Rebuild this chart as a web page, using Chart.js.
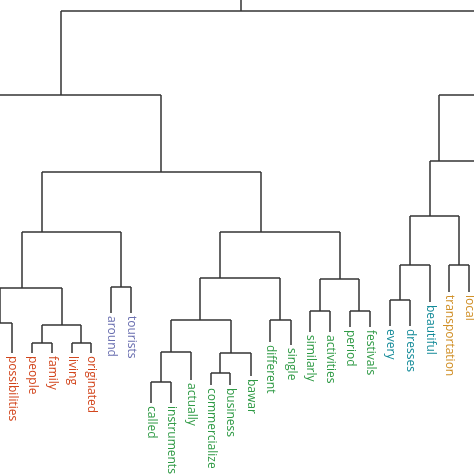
<!DOCTYPE html>
<html>
<head>
<meta charset="utf-8">
<script src="https://cdn.jsdelivr.net/npm/chart.js@4.4.1/dist/chart.umd.min.js"></script>
<style>
  html, body { margin: 0; padding: 0; background: #fff; }
  #wrap { width: 474px; height: 474px; }
</style>
</head>
<body>
<div id="wrap"><canvas id="chart" width="474" height="474"></canvas></div>
<script>
// Leaves: label, position along the axis, bottom of the leaf line, colour group
const leafNames = ["offL0", "possibilities", "people", "family", "living", "originated",
    "around", "tourists", "called", "instruments", "actually", "commercialize", "business", "bawar",
    "different", "single", "similarly", "activities", "period", "festivals",
    "every", "dresses", "beautiful", "transportation", "local", "offL1", "offR0", "offR1"];
const leafX = [-12, 12, 32, 52, 72, 91, 111, 131, 151, 171, 191, 211, 230, 251,
    270, 291, 310, 330, 350, 370, 390, 410, 430, 449, 469, -20, 500, 520];
const leafY = [360, 353, 353, 353, 353, 353, 313, 313, 403, 403, 380, 385, 385, 376,
    342, 345, 332, 332, 327, 327, 326, 326, 302, 292, 292, 480, 480, 480];
const leafGroup = ["", "red", "red", "red", "red", "red", "blue", "blue",
    "green", "green", "green", "green", "green", "green", "green", "green", "green", "green", "green", "green",
    "teal", "teal", "teal", "orange", "orange", "", "", ""];
const groupColors = { red: "#d2451c", blue: "#6a6fb0", green: "#2f9a45", teal: "#138a98", orange: "#d08f26" };

// Merges: name, stub position, merge height, children
const nodeNames = ["nA", "nPF", "nLO", "nPLFO", "nB", "nAT", "nC",
    "nCI", "nCIA", "nCB", "nCBB", "nD", "nDS", "nE", "nSA", "nPF2", "nF", "nG", "nH", "nLeft",
    "nED", "nEDB", "nTL", "nI", "nJ", "nK", "root"];
const nodeX = [0, 42, 81, 62, 22, 121, 42,
    161, 171, 220, 231, 200, 280, 220, 320, 359, 340, 261, 161, 61,
    400, 410, 459, 430, 439, 480, 241];
const nodeY = [323, 343, 343, 325, 288, 287, 232,
    382, 352, 373, 353, 320, 320, 278, 311, 311, 279, 232, 172, 95,
    300, 265, 265, 216, 161, 95, 11];
const nodeKids = [
    ["offL0", "possibilities"], ["people", "family"], ["living", "originated"], ["nPF", "nLO"],
    ["nA", "nPLFO"], ["around", "tourists"], ["nB", "nAT"],
    ["called", "instruments"], ["nCI", "actually"], ["commercialize", "business"], ["nCB", "bawar"],
    ["nCIA", "nCBB"], ["different", "single"], ["nD", "nDS"], ["similarly", "activities"],
    ["period", "festivals"], ["nSA", "nPF2"], ["nE", "nF"], ["nC", "nG"], ["offL1", "nH"],
    ["every", "dresses"], ["nED", "beautiful"], ["transportation", "local"], ["nEDB", "nTL"],
    ["nI", "offR0"], ["nJ", "offR1"], ["nLeft", "nK"]];

function posOf(name) {
    let i = leafNames.indexOf(name);
    if (i >= 0) return { x: leafX[i], y: leafY[i] };
    i = nodeNames.indexOf(name);
    return { x: nodeX[i], y: nodeY[i] };
}

const datasets = [];
function seg(points) {
    datasets.push({
        data: points, showLine: true, pointRadius: 0, borderColor: "#333",
        borderWidth: 1.5, fill: false
    });
}

nodeNames.forEach((n, i) => {
    const kids = nodeKids[i].map(posOf);
    const xs = kids.map(k => k.x);
    seg([{ x: Math.min(...xs), y: nodeY[i] }, { x: Math.max(...xs), y: nodeY[i] }]);
    kids.forEach(k => seg([{ x: k.x, y: nodeY[i] }, { x: k.x, y: k.y }]));
});
// stub above the root
seg([{ x: nodeX[nodeX.length - 1], y: -5 }, { x: nodeX[nodeX.length - 1], y: nodeY[nodeY.length - 1] }]);

const leafLabels = {
    id: "leafLabels",
    afterDatasetsDraw(chart) {
        const ctx = chart.ctx;
        const sx = chart.scales.x, sy = chart.scales.y;
        ctx.save();
        ctx.font = "12px 'Open Sans'";
        ctx.textAlign = "left";
        ctx.textBaseline = "middle";
        leafNames.forEach((name, i) => {
            if (!leafGroup[i]) return;
            const px = sx.getPixelForValue(leafX[i]);
            const py = sy.getPixelForValue(leafY[i]) + 3;
            ctx.save();
            ctx.translate(px, py);
            ctx.rotate(Math.PI / 2);
            ctx.fillStyle = groupColors[leafGroup[i]];
            ctx.fillText(name, 0, 0);
            ctx.restore();
        });
        ctx.restore();
    }
};

new Chart(document.getElementById("chart"), {
    type: "scatter",
    data: { datasets: datasets },
    options: {
        responsive: false,
        animation: false,
        layout: { padding: 0 },
        plugins: { legend: { display: false }, tooltip: { enabled: false } },
        scales: {
            x: { type: "linear", min: 0, max: 474, display: false },
            y: { type: "linear", min: 0, max: 474, reverse: true, display: false }
        }
    },
    plugins: [leafLabels]
});
</script>
</body>
</html>
